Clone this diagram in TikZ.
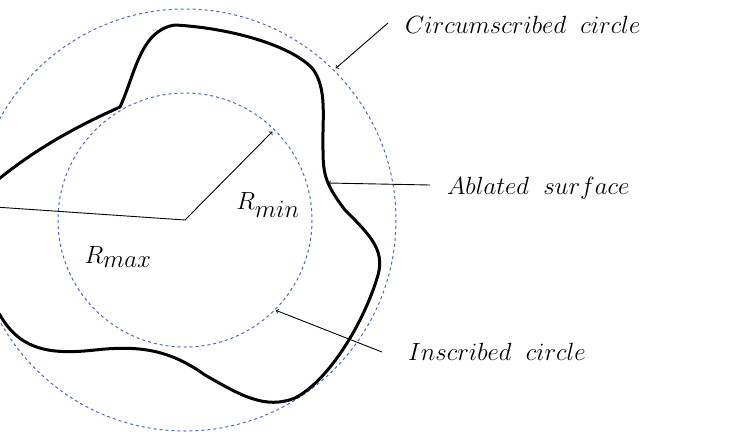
\documentclass[tikz,border=0pt]{standalone}
\usetikzlibrary{arrows,positioning,calc}
\definecolor{guideblue}{RGB}{70,110,190}

\begin{document}
\begin{tikzpicture}[x=1pt, y=-1pt,
    guide/.style={dashed, color=guideblue, line width=1pt},
    pointer/.style={->, >=to, line width=0.9pt, shorten >=1pt},
    caption/.style={anchor=west, inner sep=0pt, font=\fontsize{47}{47}\selectfont}]
    % fix the frame
    \useasboundingbox (0,0) rectangle (750,440);
    \clip (0,0) rectangle (750,440);

    \coordinate (O) at (185,220);

    % circumscribed and inscribed circles
    \draw[guide] (O) circle (211);
    \draw[guide] (O) circle (127);

    % the ablated surface
    \draw[line width=3pt, line join=round] (-20,195)
        .. controls (30,150) and (80,125) .. (120,107)
        .. controls (135,75) and (140,30) .. (175,25)
        .. controls (230,28) and (290,45) .. (312,68)
        .. controls (328,88) and (322,120) .. (323,150)
        .. controls (323,175) and (326,185) .. (345,210)
        .. controls (370,235) and (385,250) .. (378,275)
        .. controls (365,320) and (330,380) .. (295,398)
        .. controls (265,410) and (240,395) .. (205,375)
        .. controls (170,350) and (140,345) .. (95,350)
        .. controls (50,355) and (20,350) .. (0,315)
        -- (-20,290);

    % radii
    \coordinate (Rmax) at (-5,207);
    \coordinate (Rmin) at (273,131);
    \draw[line width=0.9pt] (O) -- (Rmax);
    \draw[pointer] (O) -- (Rmin);
    \node[inner sep=0pt, font=\fontsize{43}{43}\selectfont] (lmin) at (268,205) {$R_{min}$};
    \node[inner sep=0pt, font=\fontsize{43}{43}\selectfont] (lmax) at (118,257) {$R_{max}$};

    % labels with pointers
    \node[caption] (circ) at (405,25) {$Circumscribed\ circle$};
    \node[caption] (abl) at (447,188) {$Ablated\ surface$};
    \node[caption] (insc) at (408,352) {$Inscribed\ circle$};
    \coordinate (c1) at (335,69);
    \coordinate (c2) at (327,183);
    \coordinate (c3) at (275,310);
    \draw[pointer] (388,23) -- (c1);
    \draw[pointer] (430,185) -- (c2);
    \draw[pointer] (382,352) -- (c3);
\end{tikzpicture}
\end{document}
